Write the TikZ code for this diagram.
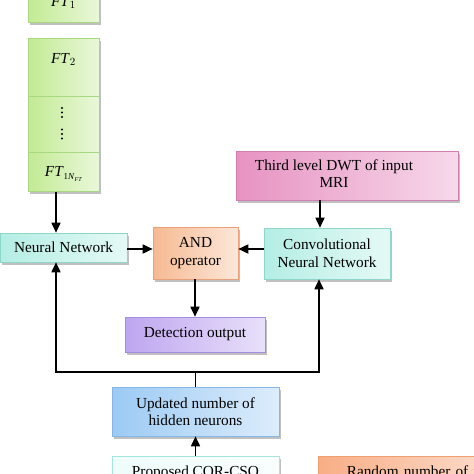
\documentclass[tikz,border=0pt]{standalone}
\usepackage{fontspec}
\setmainfont{Liberation Serif}
\usetikzlibrary{arrows.meta,shadows,calc}
\definecolor{grnA}{HTML}{C2EA94}
\definecolor{grnB}{HTML}{A8D880}
\definecolor{tealA}{HTML}{B4EEE4}
\definecolor{tealB}{HTML}{8ED6CA}
\definecolor{orgA}{HTML}{F6BA92}
\definecolor{orgB}{HTML}{E8A07A}
\definecolor{pnkA}{HTML}{E792C2}
\definecolor{pnkB}{HTML}{CF80B0}
\definecolor{purA}{HTML}{BEA6F0}
\definecolor{purB}{HTML}{A48CDE}
\definecolor{bluA}{HTML}{9CCAF4}
\definecolor{bluB}{HTML}{84B6E6}
\definecolor{cyaA}{HTML}{EEFCFA}
\definecolor{cyaB}{HTML}{A4E6DC}
\definecolor{rndA}{HTML}{F8AE86}
\definecolor{rndB}{HTML}{F0A070}
\begin{document}
\begin{tikzpicture}[x=1pt,y=-1pt,
  font=\fontsize{15.3}{17.5}\selectfont,
  mybox/.style 2 args={draw=#2, line width=0.6pt, left color=#1, right color=#1!35!white,
    inner sep=0pt, align=center,
    drop shadow={shadow xshift=1.5pt,shadow yshift=-2.5pt,fill=black!45,opacity=0.55}},
  arr/.style={line width=1.7pt, -{Triangle[length=10pt,width=9pt]}},
  ln/.style={line width=1.7pt}]
\clip (0,0) rectangle (474,474);
% green column
\node[mybox={grnA}{grnB}, minimum width=71pt, minimum height=42pt, text height=10pt, text depth=0pt] (ft1) at (63.5,1) {\textit{FT}$_1$};
\node[mybox={grnA}{grnB}, minimum width=71pt, minimum height=58pt, anchor=north, text height=12pt, text depth=20pt, inner ysep=13pt] (ft2) at (63.5,38) {\textit{FT}$_2$};
\node[mybox={grnA}{grnB}, minimum width=71pt, minimum height=56pt, anchor=north] (dots) at (63.5,96) {};
\node[mybox={grnA}{grnB}, minimum width=71pt, minimum height=39pt, anchor=north, text height=10pt, text depth=0pt] (ftn) at (63.5,152) {\textit{FT}\raisebox{-3pt}{\fontsize{9}{9}\selectfont 1\textit{N}\raisebox{-2pt}{\fontsize{6}{6}\selectfont\textit{FT}}}};
\foreach \yy in {108,112.5,117,129.5,134,138.5}
  \fill (62,\yy) circle (1.2pt);
% boxes
\node[mybox={tealA}{tealB}, minimum width=127pt, minimum height=29pt] (nn) at (63.5,247.5) {Neural Network};
\node[mybox={orgA}{orgB}, minimum width=85pt, minimum height=52pt] (and) at (195.5,253) {AND\\operator};
\node[mybox={tealA}{tealB}, minimum width=126pt, minimum height=51pt] (cnn) at (327,253.5) {Convolutional\\Neural Network};
\node[mybox={pnkA}{pnkB}, minimum width=222pt, minimum height=49pt] (dwt) at (347,175.5) {\hspace*{-26pt}\begin{tabular}{@{}c@{}}Third level DWT of input\\MRI\end{tabular}};
\node[mybox={purA}{purB}, minimum width=140pt, minimum height=35pt] (det) at (195,334.5) {Detection output};
\node[mybox={bluA}{bluB}, minimum width=167pt, minimum height=49pt] (upd) at (195.5,411.5) {Updated number of\\hidden neurons};
\node[mybox={cyaA}{cyaB}, minimum width=167pt, minimum height=60pt, anchor=north, text height=10pt, text depth=30pt, inner ysep=10pt] (prop) at (195.5,456) {Proposed COR-CSO};
\node[mybox={rndA}{rndB}, minimum width=200pt, minimum height=60pt, anchor=north west, text width=181pt, align=left, text height=10pt, text depth=30pt, inner ysep=10pt, inner xsep=0pt] (rnd) at (318,456) {\hspace*{19pt}Random number of f};
% connectors
\coordinate (lb) at (56,372);
\coordinate (rb) at (319,372);
\draw[arr] (ftn.south -| lb) -- (nn.north -| lb);
\draw[arr] (nn.east |- 0,249) -- (and.west |- 0,249);
\draw[arr] (cnn.west |- 0,249) -- (and.east |- 0,249);
\draw[arr] (dwt.south -| 320,0) -- (cnn.north -| 320,0);
\draw[arr] (and.south -| det.north) -- (det.north);
\draw[arr] (upd.north) |- (lb) -- (lb |- nn.south);
\draw[arr] (upd.north |- lb) -- (rb) -- (rb |- cnn.south);
\draw[arr] (prop.north -| upd.south) -- (upd.south);
\end{tikzpicture}
\end{document}
